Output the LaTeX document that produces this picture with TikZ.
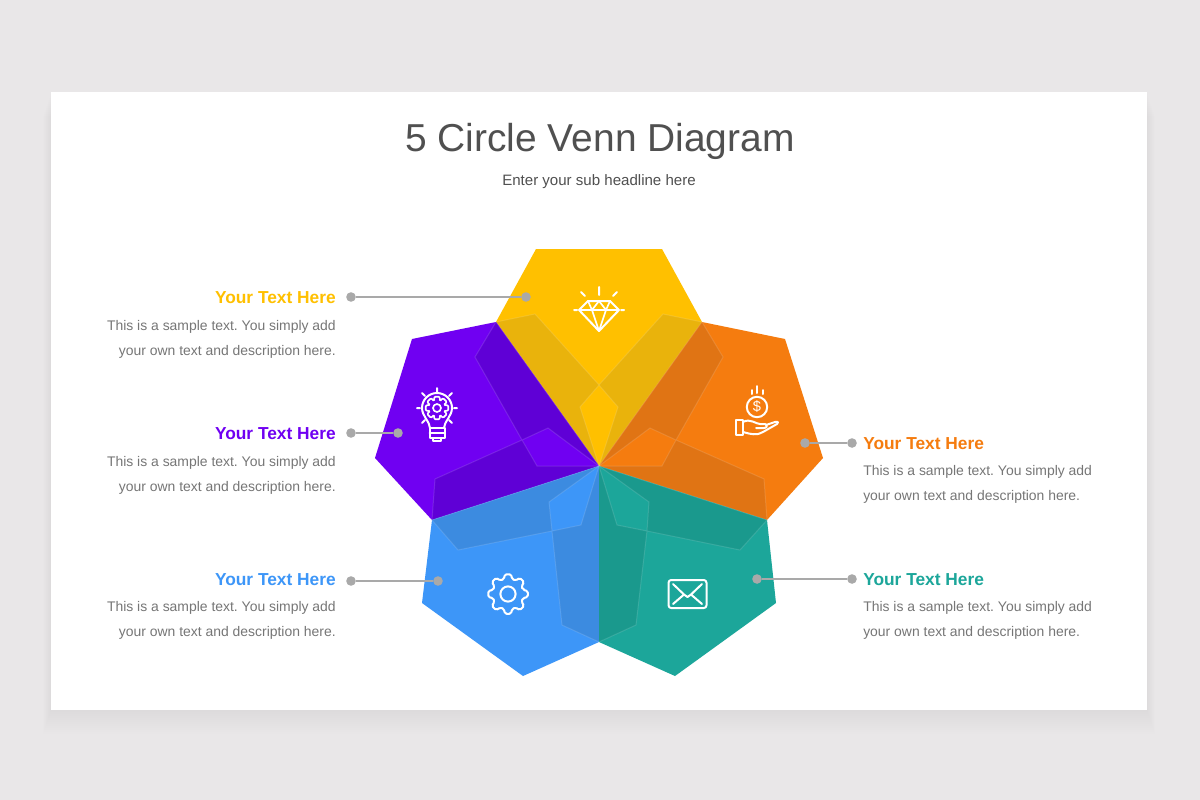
\documentclass[tikz,border=0pt]{standalone}
\usepackage{fontspec}
\setmainfont{Liberation Sans}
\frenchspacing
\definecolor{bgc}{HTML}{E9E7E8}
\definecolor{ylw}{HTML}{FFC000}\definecolor{ylwd}{HTML}{E9B30C}
\definecolor{pur}{HTML}{7000F2}\definecolor{purd}{HTML}{5F00D6}
\definecolor{org}{HTML}{F57C0F}\definecolor{orgd}{HTML}{E07414}
\definecolor{blu}{HTML}{3D96F8}\definecolor{blud}{HTML}{3C8BE0}
\definecolor{tel}{HTML}{1CA69A}\definecolor{teld}{HTML}{1A998D}
\definecolor{ttl}{HTML}{505050}\definecolor{bdy}{HTML}{767676}\definecolor{lnk}{HTML}{A9A9A9}
\tikzset{x=0.75pt,y=-0.75pt,
  edge/.style={draw=white,draw opacity=.13,line width=.75pt},
  ico/.style={draw=white,line width=1.5pt,line cap=round,line join=round},
  icoi/.style={draw=white,line width=1.25pt,line cap=round,line join=round},
  dotn/.style={circle,fill=lnk,minimum size=7.2pt,inner sep=0pt},
  lnkl/.style={draw=lnk,line width=.9pt},
  headl/.style={font=\fontsize{13pt}{16pt}\selectfont\bfseries,anchor=mid east,inner sep=0pt},
  headr/.style={font=\fontsize{13pt}{16pt}\selectfont\bfseries,anchor=mid west,inner sep=0pt},
  bodyl/.style={font=\fontsize{10.45pt}{12pt}\selectfont,text=bdy,anchor=mid east,inner sep=0pt},
  bodyr/.style={font=\fontsize{10.45pt}{12pt}\selectfont,text=bdy,anchor=mid west,inner sep=0pt},
}
\begin{document}
\begin{tikzpicture}
\useasboundingbox (0,0) rectangle (1200,800);
\fill[bgc] (0,0) rectangle (1200,800);
% card shadow
\foreach \s in {2,4,...,24}{
  \fill[black,opacity=.005] (51-\s/3,92+\s) rectangle (1147+\s/3,710+\s);
}
\fill[white] (51,92) rectangle (1147,710);
% title
\node[font=\fontsize{29.2pt}{36pt}\selectfont,text=ttl,inner sep=0pt] (title) at (600,141) {5 Circle Venn Diagram};
\node[font=\fontsize{11.3pt}{14pt}\selectfont,text=ttl,inner sep=0pt] (sub) at (599,182) {Enter your sub headline here};
% yellow
\fill[ylw] (536,249)--(662,249)--(702,322)--(599,466)--(496,322)--cycle;
\fill[ylwd] (496,322)--(535,314)--(599,385)--(580,407)--(599,466)--cycle;
\fill[ylwd] (702,322)--(663,314)--(599,385)--(618,407)--(599,466)--cycle;
\draw[edge] (496,322)--(535,314)--(599,385)--(663,314)--(702,322);
\draw[edge] (599,466)--(580,407)--(599,385)--(618,407)--(599,466);
% purple
\fill[pur] (496,322)--(412,339)--(375,458)--(432,520)--(599,466)--cycle;
\fill[purd] (496,322)--(475,357)--(522,440)--(548,428)--(599,466)--cycle;
\fill[purd] (432,520)--(435,479)--(522,440)--(537,466)--(599,466)--cycle;
\draw[edge] (496,322)--(475,357)--(522,440)--(548,428)--(599,466)--(537,466)--(522,440)--(435,479)--(432,520);
% orange
\fill[org] (702,322)--(785,339)--(823,458)--(767,520)--(599,466)--cycle;
\fill[orgd] (702,322)--(723,357)--(676,440)--(650,428)--(599,466)--cycle;
\fill[orgd] (767,520)--(764,479)--(676,440)--(662,466)--(599,466)--cycle;
\draw[edge] (702,322)--(723,357)--(676,440)--(650,428)--(599,466)--(662,466)--(676,440)--(764,479)--(767,520);
% blue
\fill[blu] (432,520)--(422,603)--(523,676)--(599,642)--(599,466)--cycle;
\fill[blud] (432,520)--(458,550)--(552,531)--(549,502)--(599,466)--cycle;
\fill[blud] (552,531)--(562,625)--(599,642)--(599,466)--(581,525)--cycle;
\draw[edge] (432,520)--(458,550)--(552,531)--(549,502)--(599,466)--(581,525)--(552,531)--(562,625)--(599,642);
% teal
\fill[tel] (767,520)--(776,603)--(675,676)--(599,642)--(599,466)--cycle;
\fill[teld] (767,520)--(740,550)--(647,531)--(649,502)--(599,466)--cycle;
\fill[teld] (647,531)--(636,625)--(599,642)--(599,466)--(617,525)--cycle;
\draw[edge] (767,520)--(740,550)--(647,531)--(649,502)--(599,466)--(617,525)--(647,531)--(636,625)--(599,642);
% boundary highlights
\draw[edge] (432,520)--(599,466)--(767,520);
\draw[edge] (496,322)--(599,466)--(702,322);
% diamond icon
\draw[ico] (588,301)--(610,301)--(619,310)--(599,331)--(579,310)--cycle;
\draw[icoi] (579,310)--(619,310) (588,301)--(592,310)--(599,301)--(606,310)--(610,301) (592,310)--(599,331)--(606,310);
\draw[ico] (599,287)--(599,295) (581,292)--(585,296) (617,292)--(613,296) (574,310)--(577,310) (621,310)--(624,310);
% bulb icon
\begin{scope}[shift={(437,408)}]
\draw[ico] (-7,20) .. controls (-7,14) and (-15,8) .. (-15,0) arc[start angle=180,end angle=360,radius=15] .. controls (15,8) and (7,14) .. (7,20);
\draw[ico] (-7.5,20)--(7.5,20)--(7.5,30)--(-7.5,30)--cycle (-7.5,25)--(7.5,25) (-4,30)--(-4,33)--(4,33)--(4,30);
\draw[ico] (0,-20)--(0,-16) (17,0)--(20,0) (-17,0)--(-20,0) (-15,-15)--(-12,-12) (15,-15)--(12,-12) (-15,15)--(-12,12) (15,15)--(12,12);
\draw[icoi,rounded corners=.6pt] (-22:8.5) \foreach \a in {0,45,...,315}{ -- (\a-22:8.5) -- (\a-12:11.5) -- (\a+12:11.5) -- (\a+22:8.5)} -- cycle;
\draw[icoi] (0,0) circle[radius=4];
\end{scope}
% hand icon
\draw[ico] (757,407) circle[radius=10.2];
\node[text=white,inner sep=0pt,font=\fontsize{11pt}{12pt}\selectfont] (coin) at (757,406.7) {\$};
\draw[ico] (757,386)--(757,393) (751.5,390)--(751.5,394) (762.5,390)--(762.5,394);
\draw[ico] (736,420)--(743,420)--(743,435)--(736,435)--cycle;
\draw[ico] (743,422) .. controls (750,418) and (756,424) .. (760,424) -- (765,424) .. controls (768,425) and (767,428) .. (764,428) -- (756,428);
\draw[ico] (766,425) -- (775,422) .. controls (778,421) and (779,423) .. (777,424) -- (763,432) .. controls (757,436) and (750,434) .. (743,432);
% gear icon
\begin{scope}[shift={(508,594)}]
\draw[ico,rounded corners=1.2pt] (-15:15.5) \foreach \a in {0,45,...,315}{ -- (\a-15:15.5) -- (\a-9:20) -- (\a+9:20) -- (\a+15:15.5)} -- cycle;
\draw[ico] (0,0) circle[radius=7.6];
\end{scope}
% envelope icon
\draw[ico,rounded corners=2pt] (668.5,580)rectangle(706.5,608);
\draw[ico] (673,584)--(684,594.5)--(687.5,597)--(691,594.5)--(702,584) (673,604)--(684,594.5) (702,604)--(691,594.5);
% connectors
\node[dotn] (ya) at (351,297) {};\node[dotn] (yb) at (526,297) {};
\node[dotn] (pa) at (351,433) {};\node[dotn] (pb) at (398,433) {};
\node[dotn] (ba) at (351,581) {};\node[dotn] (bb) at (438,581) {};
\node[dotn] (oa) at (852,443) {};\node[dotn] (ob) at (805,443) {};
\node[dotn] (ta) at (852,579) {};\node[dotn] (tb) at (757,579) {};
\draw[lnkl] (ya)--(yb);\draw[lnkl] (pa)--(pb);\draw[lnkl] (ba)--(bb);\draw[lnkl] (oa)--(ob);\draw[lnkl] (ta)--(tb);
% left labels
\node[headl,text=ylw] (yh) at (336,299.5) {Your Text Here};
\node[bodyl] (y1) at (336,327) {This is a sample text. You simply add};
\node[bodyl] (y2) at (336,352) {your own text and description here.};
\node[headl,text=pur] (ph) at (336,436) {Your Text Here};
\node[bodyl] (p1) at (336,463) {This is a sample text. You simply add};
\node[bodyl] (p2) at (336,488) {your own text and description here.};
\node[headl,text=blu] (bh) at (336,582) {Your Text Here};
\node[bodyl] (b1) at (336,608) {This is a sample text. You simply add};
\node[bodyl] (b2) at (336,633) {your own text and description here.};
% right labels
\node[headr,text=org] (oh) at (863,445.5) {Your Text Here};
\node[bodyr] (o1) at (863,472) {This is a sample text. You simply add};
\node[bodyr] (o2) at (863,497) {your own text and description here.};
\node[headr,text=tel] (th) at (863,582) {Your Text Here};
\node[bodyr] (t1) at (863,608) {This is a sample text. You simply add};
\node[bodyr] (t2) at (863,633) {your own text and description here.};
\end{tikzpicture}
\end{document}
